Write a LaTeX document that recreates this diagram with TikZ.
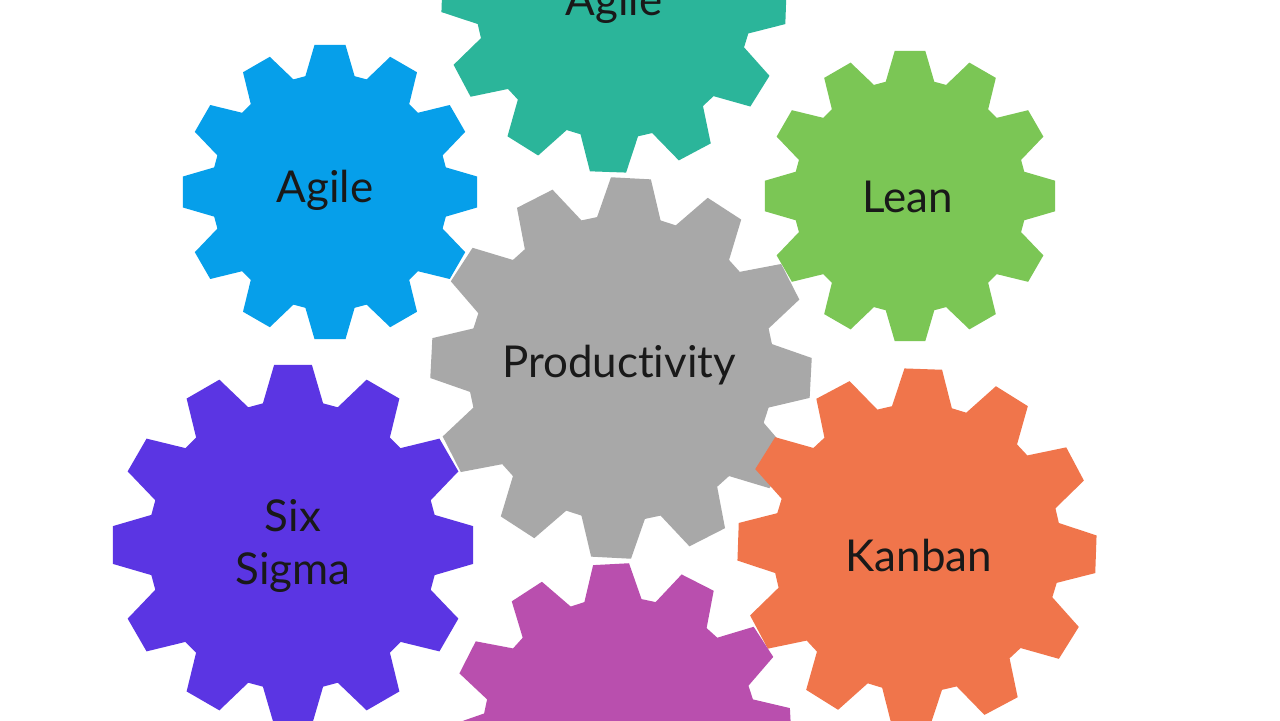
\documentclass[tikz,border=0pt]{standalone}
\usepackage{fontspec}
\setmainfont{Lato}[Ligatures={NoCommon,NoContextual}]
\usetikzlibrary{positioning}

\definecolor{cogteal}{HTML}{2BB59A}
\definecolor{cogblue}{HTML}{069FEA}
\definecolor{coggreen}{HTML}{7BC655}
\definecolor{coggray}{HTML}{A8A8A8}
\definecolor{cogpurple}{HTML}{5B35E3}
\definecolor{cogorange}{HTML}{F0754B}
\definecolor{cogmagenta}{HTML}{B94FAE}

\tikzset{
  cogtext/.style = {font=\fontsize{25}{30}\selectfont, text=black!90,
                    align=center, inner sep=0pt}
}

% one gear: centre x, centre y, outer radius, turn, colour
\newcommand{\cog}[5]{%
  \begin{scope}[shift={(#1,#2)}]
    \fill[#5] (#4-12:{0.8*#3})
      \foreach \a in {0,30,...,330}{
        -- (#4+\a-12:{0.8*#3}) -- (#4+\a-6:#3)
        -- (#4+\a+6:#3) -- (#4+\a+12:{0.8*#3})
      } -- cycle;
  \end{scope}}

\begin{document}
\begin{tikzpicture}[x=0.02cm, y=-0.02cm]
	\useasboundingbox (0,0) rectangle (1280,720);
	\fill[white] (0,0) rectangle (1280,720);
	\clip (0,0) rectangle (1280,720);

	% Gears
	\cog{614}{0}{173}{2}{cogteal}
	\cog{330}{192}{148}{0}{cogblue}
	\cog{910}{196}{146}{0}{coggreen}
	\cog{621}{368}{191}{3}{coggray}
	\cog{293}{545}{181}{0}{cogpurple}
	\cog{917}{548}{180}{2}{cogorange}
	\cog{620}{735}{172}{-3}{cogmagenta}

	% Labels
	\node[cogtext] (agiletop) at (614,3) {Agile};
	\node[cogtext] (agile) at (325,190) {Agile};
	\node[cogtext] (lean) at (908,197) {Lean};
	\node[cogtext] (prod) at (619,365) {Productivity};
	\node[cogtext] (sixsigma) at (293,546) {Six\\Sigma};
	\node[cogtext] (kanban) at (919,555) {Kanban};
\end{tikzpicture}
\end{document}
